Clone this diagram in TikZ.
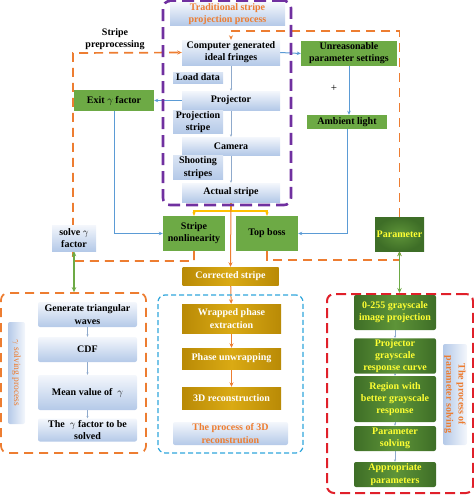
\documentclass[tikz,border=0pt]{standalone}
\usepackage{fontspec}
\setmainfont{Liberation Serif}
\usetikzlibrary{arrows.meta,backgrounds}
\definecolor{lbtop}{HTML}{F4F7FC}
\definecolor{lbbot}{HTML}{B4C9E8}
\definecolor{grn}{HTML}{6DAA45}
\definecolor{dgrn}{HTML}{3E6E27}
\definecolor{mgrn}{HTML}{5E9438}
\definecolor{gold}{HTML}{B98A06}
\definecolor{goldm}{HTML}{DAAA14}
\definecolor{org}{HTML}{ED7D31}
\definecolor{blu}{HTML}{5B9BD5}
\definecolor{thinb}{HTML}{8FAACC}
\definecolor{yel}{HTML}{FFC000}
\definecolor{pur}{HTML}{7030A0}
\definecolor{cyan2}{HTML}{2FA6DC}
\definecolor{redd}{HTML}{E0202A}
\definecolor{ytxt}{HTML}{FFFF33}
\begin{document}
\begin{tikzpicture}[x=1pt,y=-1pt,
  font=\bfseries\fontsize{10}{12.2}\selectfont,
  every node/.style={inner sep=1pt, align=center},
  lb/.style={shade, top color=lbtop, bottom color=lbbot, draw=none},
  lbl/.style={shade, top color=lbtop!60!lbbot, bottom color=lbbot},
  gb/.style={fill=grn},
  dg/.style={left color=dgrn, right color=dgrn, middle color=mgrn, text=ytxt, rounded corners=2pt},
  gd/.style={left color=gold, right color=gold, middle color=goldm, text=white},
  fr/.style={draw, rounded corners=7pt, minimum width=#1},
  oline/.style={org, line width=1.7pt, dash pattern=on 9pt off 6pt},
  bline/.style={blu, line width=1pt, -{Stealth[length=4pt,width=3.5pt]}},
  tline/.style={thinb, line width=0.6pt, -{Stealth[length=2.5pt,width=2.2pt]}},
  oarr/.style={org, line width=1pt, -{Stealth[length=4.5pt,width=4pt]}},
  garr/.style={grn, line width=1.4pt, {Stealth[length=5pt,width=4.5pt]}-{Stealth[length=5pt,width=4.5pt]}}
]
\useasboundingbox (0,0) rectangle (474,496);

% frames
\node[fr=128, draw=pur, line width=2.6pt, dash pattern=on 12pt off 6pt, minimum height=204] (pf) at (227,103) {};
\node[fr=145, draw=org, line width=1.7pt, dash pattern=on 9pt off 6pt, minimum height=160] (gframe) at (73.5,373) {};
\node[fr=145, draw=cyan2, line width=1.2pt, dash pattern=on 5pt off 3pt, minimum height=158] (bframe) at (230.5,374) {};
\node[fr=146, draw=redd, line width=2pt, dash pattern=on 10pt off 5pt, minimum height=199] (rframe) at (400,393.5) {};

% top process
\node[lb, text=org, minimum width=115, minimum height=23] (hdr) at (227.5,14) {Traditional stripe\\projection process};
\node[lb, minimum width=98, minimum height=25] (cg) at (231,52.5) {Computer generated\\ideal fringes};
\node[lbl, minimum width=50, minimum height=11] (ld) at (198,77.5) {Load data};
\node[lb, minimum width=98, minimum height=19] (proj) at (231,100.5) {Projector};
\node[lbl, minimum width=50, minimum height=20] (ps) at (198,122) {Projection\\stripe};
\node[lb, minimum width=98, minimum height=18] (cam) at (231,146) {Camera};
\node[lbl, minimum width=50, minimum height=21] (ss) at (198,167.5) {Shooting\\stripes};
\node[lb, minimum width=98, minimum height=19] (act) at (231,192.5) {Actual stripe};

\node (sp) at (115,39.5) {Stripe\\preprocessing};
\node[gb, minimum width=80, minimum height=21] (exit) at (114,100.5) {Exit $\gamma$ factor};
\node[gb, minimum width=96, minimum height=25] (unr) at (349,53.5) {Unreasonable\\parameter settings};
\node[font=\fontsize{11}{12}\selectfont] (plus) at (334,88) {+};
\node[gb, minimum width=80, minimum height=14] (amb) at (347,122) {Ambient light};

\node[gb, minimum width=62, minimum height=35] (nl) at (194,233.5) {Stripe\\nonlinearity};
\node[gb, minimum width=62, minimum height=35] (tb) at (267,233.5) {Top boss};
\node[lb, minimum width=44, minimum height=26] (solve) at (74,238) {solve $\gamma$\\factor};
\node[shade, inner color=mgrn, outer color=dgrn, text=ytxt, minimum width=49, minimum height=34] (par) at (399.5,234) {Parameter};

% 3D reconstruction
\node[gd, minimum width=96, minimum height=18] (cor) at (230.5,276) {Corrected stripe};
\node[gd, minimum width=99, minimum height=29] (wr) at (231.5,318.5) {Wrapped phase\\extraction};
\node[gd, minimum width=99, minimum height=21] (uw) at (231.5,358.5) {Phase unwrapping};
\node[gd, minimum width=99, minimum height=22] (rc) at (231.5,398) {3D reconstruction};
\node[lb, text=org, minimum width=115, minimum height=23, rounded corners=2pt] (l3d) at (230.5,433.5) {The process of 3D\\reconstrution};

% gamma solving
\node[shade, left color=lbbot, right color=lbtop, text=org, rotate=-90, minimum width=102, minimum height=17, rounded corners=2pt, font=\fontsize{9.5}{11}\selectfont] (gl) at (16.5,373) {$\gamma$ solving process};
\node[lb, minimum width=99, minimum height=25, rounded corners=2pt] (gen) at (87.5,314.5) {Generate triangular\\waves};
\node[lb, minimum width=99, minimum height=25, rounded corners=2pt] (cdf) at (87.5,349.5) {CDF};
\node[lb, minimum width=99, minimum height=35, rounded corners=2pt] (mean) at (87.5,392.5) {Mean value of\ \ $\gamma$};
\node[lb, minimum width=99, minimum height=23, rounded corners=2pt] (gf) at (87.5,430) {The\ \ $\gamma$ factor to be\\solved};

% parameter solving
\node[shade, left color=lbbot, right color=lbtop, text=org, rotate=-90, minimum width=101, minimum height=24, rounded corners=2pt] (pl) at (455,394.5) {The process of\\parameter solving};
\node[dg, minimum width=82, minimum height=35] (g0) at (395,312.5) {0-255 grayscale\\image projection};
\node[dg, minimum width=82, minimum height=32] (g1) at (395,356) {Projector\\grayscale\\response curve};
\node[dg, minimum width=82, minimum height=46] (g2) at (395,399) {Region with\\better grayscale\\response};
\node[dg, minimum width=82, minimum height=25] (g3) at (395,438.5) {Parameter\\solving};
\node[dg, minimum width=82, minimum height=25] (g4) at (395,474.5) {Appropriate\\parameters};

\begin{pgfonlayer}{background}
% orange dashed loops
\coordinate (c1) at (194,261);
\coordinate (c2) at (73,261);
\coordinate (c3) at (73,53);
\draw[oline, -{Stealth[length=4.5pt,width=4pt]}] (nl.south) -- (c1) -- (c2) -- (c3) -- (cg.west);
\coordinate (c4) at (399.5,31);
\draw[oline, -{Stealth[length=4.5pt,width=4pt]}] (par.north) -- (c4) -| (cg.north);
\coordinate (c5) at (399.5,260);
\draw[oline] (tb.south) |- (c5);
\draw[org, line width=1pt, -{Stealth[length=4.5pt,width=4pt]}] (c5) -- (par.south);
% blue connectors
\draw[bline] (proj.west) -- (exit.east);
\draw[bline] (exit.south) |- (nl.west);
\draw[bline] (cg.east) -- (unr.west);
\draw[bline] (unr.south) -- (unr.south |- amb.north);
\draw[bline] (amb.south) |- (tb.east);
% thin arrows
\draw[tline] (cg) -- (proj);
\draw[tline] (proj) -- (cam);
\draw[tline] (cam) -- (act);
\draw[tline] (gen) -- (cdf);
\draw[tline] (cdf) -- (mean);
\draw[tline] (mean) -- (gf);
\draw[tline] (g0) -- (g1);
\draw[tline] (g1) -- (g2);
\draw[tline] (g2) -- (g3);
\draw[tline] (g3) -- (g4);
% yellow split
\coordinate (yc) at (231,211);
\draw[yel, line width=1.1pt] (act.south) -- (yc);
\draw[yel, line width=1.1pt, -{Stealth[length=3.5pt,width=3.2pt]}] (yc) -| (nl.north);
\draw[yel, line width=1.1pt, -{Stealth[length=3.5pt,width=3.2pt]}] (yc) -| (tb.north);
% orange solid
\draw[oarr] (act.south) -- (cor.north);
\draw[oarr] (cor) -- (wr);
\draw[oarr] (wr) -- (uw);
\draw[oarr] (uw) -- (rc);
% green double arrows
\draw[garr] (solve.south) -- (solve.south |- gframe.north);
\draw[garr] (par.south) -- (par.south |- rframe.north);
\end{pgfonlayer}
\end{tikzpicture}
\end{document}
